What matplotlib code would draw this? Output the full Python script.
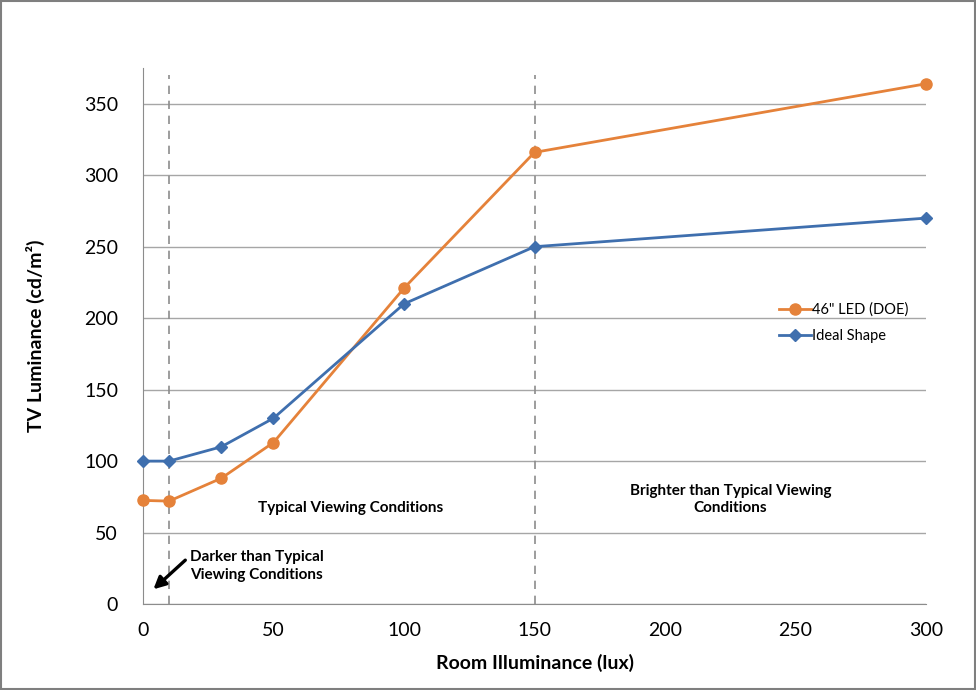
import matplotlib
matplotlib.use('Agg')
import matplotlib.pyplot as plt

# room illuminance (lux) vs TV luminance (cd/m2)
lux = [0, 10, 30, 50, 100, 150, 300]
led_doe = [72.5, 72, 88, 113, 221, 316, 364]
ideal = [100, 100, 110, 130, 210, 250, 270]

xticks = [0, 50, 100, 150, 200, 250, 300]
yticks = [0, 50, 100, 150, 200, 250, 300, 350]

plt.rcParams['font.family'] = ['Lato', 'DejaVu Sans']

orange = '#E5823A'
blue = '#3F6FAE'
grey = '#8C8C8C'

fig = plt.figure(figsize=(9.76, 6.9), dpi=100)
ax = fig.add_axes([0.1465, 0.1246, 0.8023, 0.7768])

ax.yaxis.grid(True, color='#A6A6A6', lw=1)
ax.set_axisbelow(True)

# boundaries of typical viewing conditions
for xv in [10, 150]:
    ax.plot([xv, xv], [0, 370], ls=(0, (5, 4)), color=grey, lw=1.2, zorder=1)

ax.plot(lux, led_doe, color=orange, lw=2, marker='o', ms=8, label='46" LED (DOE)',
        zorder=3, clip_on=False)
ax.plot(lux, ideal, color=blue, lw=2, marker='D', ms=6, label='Ideal Shape',
        zorder=3, clip_on=False)

ax.set_xlim(0, 300)
ax.set_ylim(0, 375)
ax.set_xticks(xticks)
ax.set_yticks(yticks)
ax.tick_params(length=0, labelsize=14, colors='black')
ax.tick_params(axis='y', pad=18)
ax.tick_params(axis='x', pad=13)

for s in ['top', 'right']:
    ax.spines[s].set_visible(False)
for s in ['left', 'bottom']:
    ax.spines[s].set_color('#8C8C8C')

ax.set_xlabel('Room Illuminance (lux)', fontsize=14, fontweight='bold', labelpad=11)
ax.set_ylabel('TV Luminance (cd/m\u00b2)', fontsize=14, fontweight='bold', labelpad=28)

ax.text(79.7, 67, 'Typical Viewing Conditions', ha='center', va='center',
        fontsize=11, fontweight='bold')
ax.text(225, 73, 'Brighter than Typical Viewing\nConditions', ha='center', va='center',
        fontsize=11, fontweight='bold', linespacing=1.3)
ax.text(18, 26.6, 'Darker than Typical\nViewing Conditions', ha='left', va='center',
        fontsize=11, fontweight='bold', linespacing=1.3)
ax.annotate('', xy=(3.2, 9), xytext=(17, 32),
            arrowprops=dict(arrowstyle='-|>', color='black', lw=2.4, mutation_scale=18))

leg = ax.legend(loc='center left', bbox_to_anchor=(0.795, 0.525), frameon=False,
                fontsize=10.5, handlelength=2.2, handletextpad=0.1, labelspacing=0.8)

# outer border
fig.patches.append(plt.Rectangle((0.001, 0.001), 0.998, 0.997, transform=fig.transFigure,
                                 fill=False, edgecolor='#7F7F7F', lw=1.5))

fig.savefig('out.png', dpi=100)
